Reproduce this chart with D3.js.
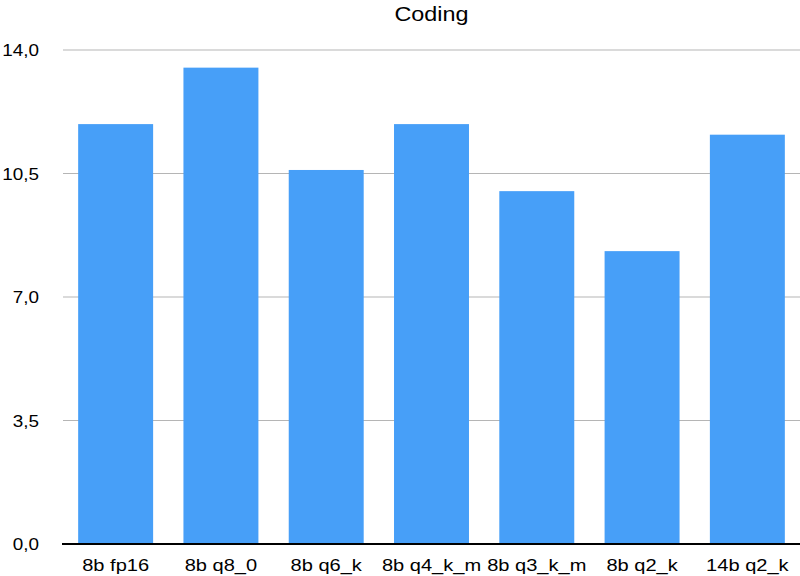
<!DOCTYPE html>
<html lang="en">
<head>
    <meta charset="UTF-8">
    <title>Coding</title>
    <script src="https://cdn.jsdelivr.net/npm/d3@7"></script>
</head>
<body>

    <div class="marco"></div>

    <style>
        body, html {margin: 0; padding: 0; background: #fff;}
        .marco {width: 800px; height: 576px;}
        text {font-family: "Liberation Sans", Helvetica, Arial, sans-serif; fill: #000;}
    </style>

    <script>
        // datos del grafico
        const categorias = ["8b fp16", "8b q8_0", "8b q6_k", "8b q4_k_m", "8b q3_k_m", "8b q2_k", "14b q2_k"];
        const valores = [11.9, 13.5, 10.6, 11.9, 10.0, 8.3, 11.6];
        const ticksY = [0, 3.5, 7, 10.5, 14];
        const titulo = "Coding";

        const width = 800, height = 576;
        const margin = {top: 50, right: 0, bottom: 32, left: 63};
        // el texto original esta algo estirado en horizontal
        const estiro = 1.18;

        const svg = d3.select(".marco").append("svg")
            .attr("width", width)
            .attr("height", height);

        const x = d3.scaleBand()
            .domain(categorias)
            .range([margin.left, width - margin.right])
            .paddingInner(0.288)
            .paddingOuter(0.144);

        const y = d3.scaleLinear()
            .domain([0, 14])
            .range([height - margin.bottom, margin.top]);

        const fmt = v => d3.format(".1f")(v).replace(".", ",");

        // lineas de la rejilla
        svg.append("g").selectAll("line")
            .data(ticksY.filter(d => d > 0))
            .enter().append("line")
            .attr("x1", margin.left)
            .attr("x2", width - margin.right)
            .attr("y1", d => y(d))
            .attr("y2", d => y(d))
            .attr("stroke", "#b5b5b5")
            .attr("stroke-width", 1);

        // etiquetas eje Y
        svg.append("g").selectAll("text")
            .data(ticksY)
            .enter().append("text")
            .attr("transform", d => `translate(39, ${y(d) + 6}) scale(${estiro}, 1)`)
            .attr("text-anchor", "end")
            .style("font-size", "16px")
            .text(d => fmt(d));

        // barras
        svg.append("g").selectAll("rect")
            .data(valores)
            .enter().append("rect")
            .attr("x", (d, i) => x(categorias[i]))
            .attr("y", d => y(d))
            .attr("width", x.bandwidth())
            .attr("height", d => y(0) - y(d))
            .attr("fill", "#479ff8");

        // eje horizontal
        svg.append("line")
            .attr("x1", margin.left - 1)
            .attr("x2", width - margin.right)
            .attr("y1", y(0))
            .attr("y2", y(0))
            .attr("stroke", "#000")
            .attr("stroke-width", 2);

        // etiquetas eje X
        svg.append("g").selectAll("text")
            .data(categorias)
            .enter().append("text")
            .attr("transform", d => `translate(${x(d) + x.bandwidth() / 2}, 571) scale(${estiro}, 1)`)
            .attr("text-anchor", "middle")
            .style("font-size", "17px")
            .text(d => d);

        // titulo
        svg.append("text")
            .attr("transform", `translate(${(margin.left + width) / 2}, 21) scale(1.2, 1)`)
            .attr("text-anchor", "middle")
            .style("font-size", "19.5px")
            .text(titulo);
    </script>
</body>
</html>
